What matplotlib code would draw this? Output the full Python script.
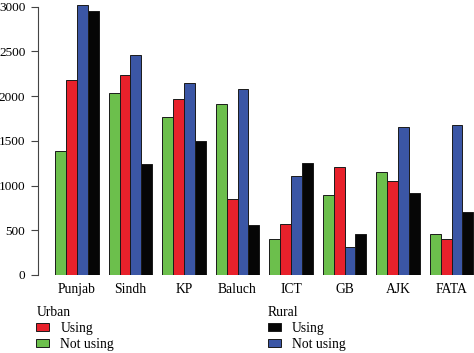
import numpy as np
import matplotlib
matplotlib.use("Agg")
from matplotlib import pyplot as plt

# data
regions = ["Punjab", "Sindh", "KP", "Baluch", "ICT", "GB", "AJK", "FATA"]
urban_not_using = [1390, 2040, 1765, 1915, 405, 895, 1150, 455]
urban_using = [2185, 2240, 1965, 852, 566, 1213, 1055, 405]
rural_not_using = [3020, 2455, 2145, 2078, 1110, 310, 1650, 1680]
rural_using = [2950, 1240, 1495, 558, 1252, 455, 915, 700]

plt.rcParams['font.family'] = ['Liberation Serif', 'DejaVu Serif']

fig = plt.figure(figsize=(4.74, 3.53), dpi=100)
ax = fig.add_axes([0.080, 0.221, 0.920, 0.770])

x = np.arange(len(regions))
w = 0.203
series = [
    (urban_not_using, "#6cbf4c", "Not using"),
    (urban_using, "#e8212b", "Using"),
    (rural_not_using, "#3b56a5", "Not using"),
    (rural_using, "#060606", "Using"),
]
bars = []
for k, (vals, col, lab) in enumerate(series):
    b = ax.bar(x + (k - 1.5) * w, vals, w, color=col, edgecolor="#1a1a1a",
               linewidth=0.7, label=lab)
    bars.append(b)

ax.set_xlim(-0.73, 7.42)
ax.set_ylim(0, 3040)
ax.set_yticks([0, 500, 1000, 1500, 2000, 2500, 3000])
ax.set_xticks(x)
ax.set_xticklabels(regions)
ax.tick_params(axis='x', length=0, pad=6, labelsize=9.8)
ax.tick_params(axis='y', length=5, width=0.8, pad=4, labelsize=9.5, color="#444444")
for s in ["top", "right", "bottom"]:
    ax.spines[s].set_visible(False)
ax.spines["left"].set_bounds(0, 3000)
ax.spines["left"].set_color("#444444")
ax.spines["left"].set_linewidth(0.8)

# two legends, urban on the left and rural on the right
leg_kw = dict(frameon=False, fontsize=9.8, title_fontsize=9.8, handlelength=0.95,
              handleheight=0.5, handletextpad=0.8, labelspacing=0.22,
              borderpad=0, borderaxespad=0, alignment="left")
fig.legend([bars[1], bars[0]], ["Using", "Not using"], title="Urban",
           loc="upper left", bbox_to_anchor=(0.077, 0.133), **leg_kw)
fig.legend([bars[3], bars[2]], ["Using", "Not using"], title="Rural",
           loc="upper left", bbox_to_anchor=(0.565, 0.133), **leg_kw)

fig.savefig("out.png", dpi=100)
